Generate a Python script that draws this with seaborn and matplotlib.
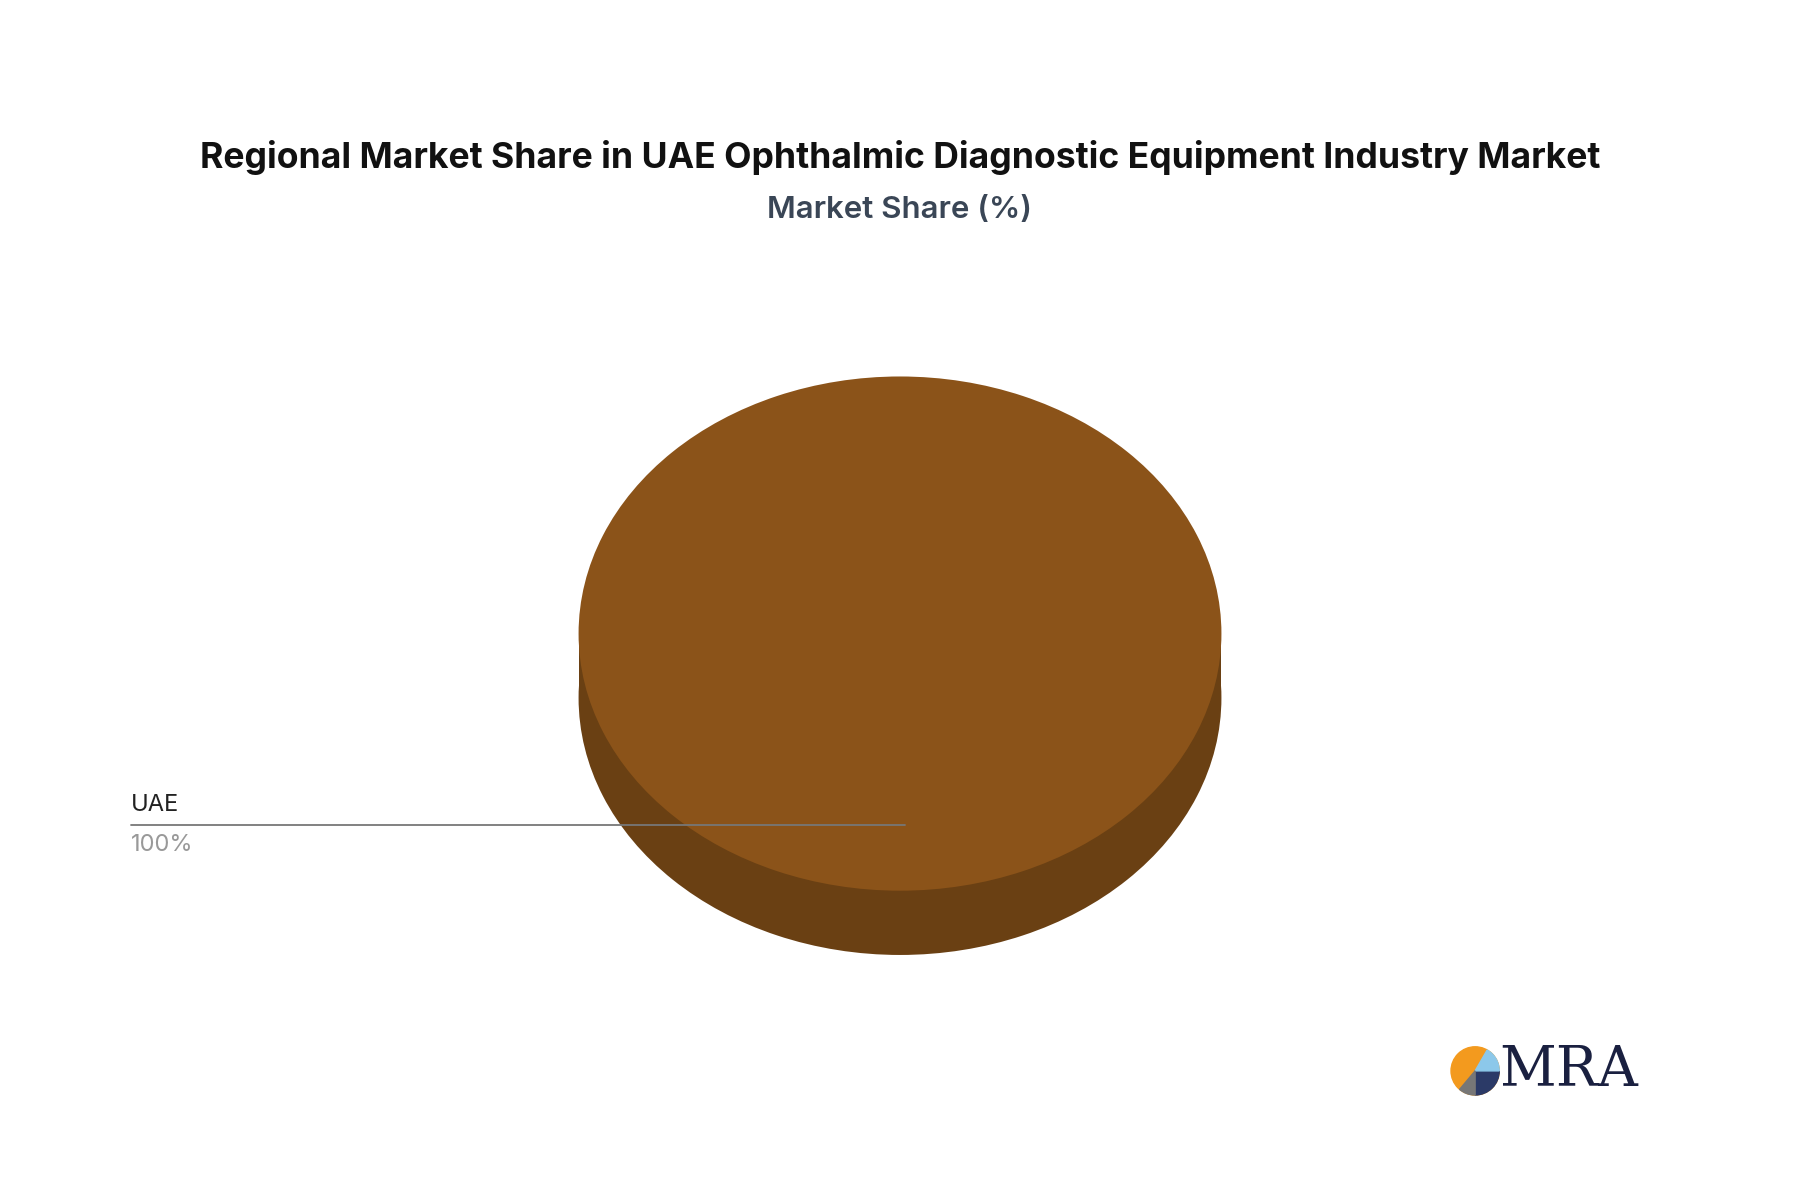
import matplotlib
matplotlib.use("Agg")
import matplotlib.pyplot as plt
import seaborn as sns
from matplotlib.patches import Rectangle, Circle, Wedge

sns.set_theme(style="white")
plt.rcParams['font.family'] = ['Inter', 'DejaVu Sans']

regions = ["UAE"]
shares = [100]
top_color = "#8B5319"
side_color = "#6A4013"

W, H = 1568, 1042
fig = plt.figure(figsize=(18, 11.96), dpi=100)
ax = fig.add_axes([0, 0, 1, 1])
ax.set_xlim(0, W)
ax.set_ylim(H, 0)
ax.axis("off")


def pie_axes(x0, y0, x1, y1, color, z):
    pa = fig.add_axes([x0 / W, 1 - y1 / H, (x1 - x0) / W, (y1 - y0) / H])
    pa.pie(shares, colors=[color], startangle=90, radius=1,
           wedgeprops=dict(linewidth=0))
    pa.set_aspect("auto")
    pa.set_xlim(-1, 1)
    pa.set_ylim(-1, 1)
    pa.axis("off")
    pa.set_zorder(z)
    pa.patch.set_alpha(0)
    return pa


# 3D side: bottom ellipse + band
pie_axes(504, 384, 1064, 832, side_color, 1)
side = fig.add_axes([504 / W, 1 - 608 / H, 560 / W, 56 / H])
side.add_patch(Rectangle((0, 0), 1, 1, color=side_color, lw=0))
side.axis("off")
side.set_zorder(1)
pie_axes(504, 328, 1064, 776, top_color, 2)

# leader + labels on an overlay
ov = fig.add_axes([0, 0, 1, 1])
ov.set_xlim(0, W)
ov.set_ylim(H, 0)
ov.axis("off")
ov.set_zorder(3)
ov.patch.set_alpha(0)
ov.plot([114, 788], [719, 719], color="#777777", lw=1.3)
ov.text(114, 711, regions[0], fontsize=17, color="#222222", va="bottom")
ov.text(114, 727, f"{shares[0]}%", fontsize=17, color="#999999", va="top")

ax.text(784, 137, "Regional Market Share in UAE Ophthalmic Diagnostic Equipment Industry Market",
        ha="center", va="center", fontsize=25.6, fontweight="bold", color="#111111")
ax.text(784, 183, "Market Share (%)", ha="center", va="center",
        fontsize=22.5, fontweight="semibold", color="#3a4656")

# logo
ov.add_patch(Circle((1285, 933), 21, color="#F39A1E"))
ov.add_patch(Wedge((1285, 933), 21, 0, 90, color="#2B3A67"))
ov.add_patch(Wedge((1285, 933), 21, -60, 0, color="#8CC8EA"))
ov.add_patch(Wedge((1285, 933), 21, 90, 130, color="#777777"))
ov.text(1306, 933, "MRA", fontsize=40, family="DejaVu Serif", color="#1a2040",
        va="center", ha="left")

fig.savefig("out.png", dpi=100, facecolor="white")
